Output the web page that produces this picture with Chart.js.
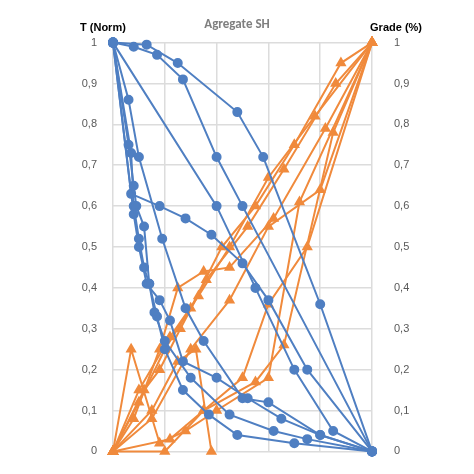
<!DOCTYPE html>
<html>
<head>
<meta charset="utf-8">
<script src="https://cdn.jsdelivr.net/npm/chart.js@4"></script>
<style>
  html, body { margin: 0; padding: 0; background: #fff; }
  #wrap { width: 474px; height: 474px; overflow: hidden; }
</style>
</head>
<body>
<div id="wrap"><canvas id="chart"></canvas></div>
<script>
// Blue series: T (Norm), left axis
const blue1 = [[0,1],[13,0.995],[25,0.95],[48,0.83],[58,0.72],[80,0.36],[100,0]];
const blue2 = [[0,1],[8,0.99],[17,0.97],[27,0.91],[40,0.72],[50,0.6],[100,0]];
const blue3 = [[0,1],[6,0.86],[10,0.72],[19,0.52],[28,0.35],[35,0.27],[50,0.13],[60,0.12],[80,0.04],[100,0]];
const blue4 = [[0,1],[6,0.75],[8,0.65],[9,0.6],[12,0.55],[14,0.41],[16,0.34],[20,0.27],[30,0.18],[45,0.09],[62,0.05],[75,0.03],[100,0]];
const blue5 = [[0,1],[7,0.73],[8,0.6],[10,0.52],[12,0.45],[14,0.41],[17,0.33],[20,0.25],[27,0.15],[37,0.09],[48,0.04],[70,0.02],[100,0]];
const blue6 = [[0,1],[7,0.63],[18,0.6],[28,0.57],[38,0.53],[50,0.46],[60,0.37],[75,0.2],[100,0]];
const blue7 = [[0,1],[8,0.58],[10,0.5],[13,0.41],[18,0.37],[22,0.32],[27,0.22],[40,0.18],[52,0.13],[65,0.08],[80,0.04],[100,0]];
const blue8 = [[0,1],[40,0.6],[55,0.4],[70,0.2],[85,0.05],[100,0]];

// Orange series: Grade (%), right axis
const orange1 = [[0,0],[7,0.25],[18,0.02],[28,0.05],[40,0.1],[60,0.18],[72,0.61],[100,1]];
const orange2 = [[0,0],[8,0.08],[18,0.25],[25,0.4],[35,0.44],[45,0.45],[62,0.57],[82,0.79],[100,1]];
const orange3 = [[0,0],[10,0.12],[20,0.25],[30,0.35],[42,0.5],[55,0.6],[70,0.75],[88,0.95],[100,1]];
const orange4 = [[0,0],[10,0.15],[22,0.28],[33,0.38],[45,0.5],[60,0.67],[78,0.82],[100,1]];
const orange5 = [[0,0],[12,0.15],[18,0.2],[26,0.3],[36,0.42],[52,0.55],[66,0.69],[86,0.9],[100,1]];
const orange6 = [[0,0],[22,0.03],[35,0.1],[50,0.18],[60,0.36],[75,0.5],[100,1]];
const orange7 = [[0,0],[15,0.08],[30,0.25],[45,0.37],[60,0.55],[80,0.64],[100,1]];
const orange8 = [[0,0],[20,0],[35,0.1],[55,0.17],[66,0.26],[85,0.78],[100,1]];
const orange9 = [[0,0],[15,0.1],[25,0.22],[32,0.25],[38,0]];

const blueSeries = [blue1, blue2, blue3, blue4, blue5, blue6, blue7, blue8];
const orangeSeries = [orange1, orange2, orange3, orange4, orange5, orange6, orange7, orange8, orange9];

const BLUE = '#4f7fc2';
const ORANGE = '#f08a3c';

function toPoints(arr) {
    return arr.map(p => ({ x: p[0], y: p[1] }));
}

const datasets = [];
blueSeries.forEach(s => datasets.push({
    data: toPoints(s), yAxisID: 'y', borderColor: BLUE, backgroundColor: BLUE,
    borderWidth: 2, pointRadius: 4, pointStyle: 'circle', clip: false
}));
orangeSeries.forEach(s => datasets.push({
    data: toPoints(s), yAxisID: 'y2', borderColor: ORANGE, backgroundColor: ORANGE,
    borderWidth: 2, pointRadius: 4.5, pointStyle: 'triangle', clip: false
}));

function fmt(v) {
    if (v === 0 || v === 1) return String(v);
    return v.toFixed(1).replace('.', ',');
}

// axis titles sit above the plot, like in the original
const titles = {
    id: 'titles',
    afterDraw(chart) {
        const c = chart.ctx;
        c.save();
        c.font = 'bold 11px "Liberation Sans", Arial';
        c.fillStyle = '#000';
        c.textBaseline = 'middle';
        c.textAlign = 'left';
        c.fillText('T (Norm)', 80, 28);
        c.textAlign = 'right';
        c.fillText('Grade (%)', 422, 28);
        c.restore();
    }
};

new Chart(document.getElementById('chart'), {
    type: 'line',
    data: { datasets },
    plugins: [titles],
    options: {
        responsive: true,
        maintainAspectRatio: false,
        animation: false,
        layout: { padding: { top: 5, bottom: -18, left: 0, right: 0 } },
        plugins: {
            legend: { display: false },
            tooltip: { enabled: false },
            title: {
                display: true, text: 'Agregate SH', color: '#7f7f7f',
                font: { size: 13, family: 'Calibri, "Liberation Sans", Arial' },
                padding: { top: 12, bottom: 10 }
            }
        },
        scales: {
            x: {
                type: 'linear', min: 0, max: 100,
                ticks: { display: false, stepSize: 20 },
                grid: { color: '#dcdcdc', lineWidth: 1.5, drawTicks: false },
                border: { display: false },
                afterFit(s) { s.height = 0; }
            },
            y: {
                position: 'left', min: 0, max: 1,
                ticks: { stepSize: 0.1, color: '#595959', font: { size: 11 }, callback: fmt, padding: 16 },
                grid: { color: '#dcdcdc', lineWidth: 1.5, drawTicks: false },
                border: { display: false },
                afterFit(s) { s.width = 113; }
            },
            y2: {
                position: 'right', min: 0, max: 1,
                ticks: { stepSize: 0.1, color: '#595959', font: { size: 11 }, callback: fmt, padding: 14 },
                grid: { display: false },
                border: { display: false },
                afterFit(s) { s.width = 102; }
            }
        }
    }
});
</script>
</body>
</html>
